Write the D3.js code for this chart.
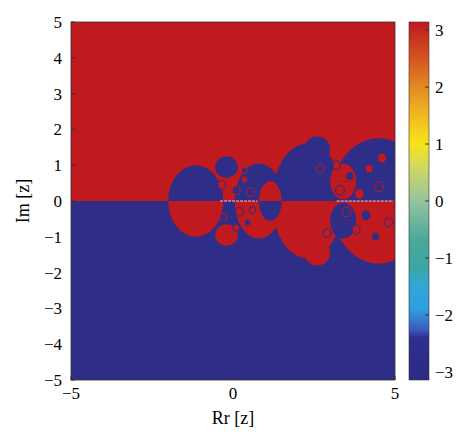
<!DOCTYPE html><html><head><script src="https://cdn.jsdelivr.net/npm/d3@7"></script>
<style>body{margin:0;background:#fff}</style></head><body><svg id="c" width="474" height="445" font-family="'Liberation Serif','Times New Roman',Times,serif"></svg>
<script>
const xTicks=[-5,0,5], yTicks=[-5,-4,-3,-2,-1,0,1,2,3,4,5], cTicks=[-3,-2,-1,0,1,2,3];
// lobes: centre, radii (data units), phase in upper half / lower half
const lobeCx=[2.3,-1.15,0.8,4.5,1.15,2.6,2.6,-0.2,-0.2,3.4,3.4];
const lobeCy=[0,0,0,0,0,1.45,-1.45,0.95,-0.95,0.55,-0.55];
const lobeRx=[1.1,0.85,0.75,1.5,0.35,0.4,0.4,0.35,0.35,0.4,0.4];
const lobeRy=[1.6,1.0,1.05,1.75,0.55,0.35,0.35,0.3,0.3,0.5,0.5];
const lobeTop=[-3,-3,-3,-3,3,-3,3,-3,3,3,-3];
const lobeBot=[3,3,3,3,-3,-3,3,-3,3,3,-3];
const blobX=[0.1,0.35,0.55,-0.35,0.2,0.45,0.1,0.35,-0.3,0.6,3.3,3.6,3.9,4.2,4.5,3.5,3.8,4.1,4.4,4.8,3.2,4.6,2.7,2.9];
const blobY=[0.3,0.6,0.25,0.45,-0.3,-0.6,-0.75,0.85,-0.45,-0.25,0.3,0.7,0.2,0.9,0.4,-0.3,-0.8,-0.4,-1.0,-0.6,1.0,1.2,0.9,-0.9];
const blobR=[0.12,0.1,0.13,0.12,0.12,0.1,0.1,0.09,0.11,0.1,0.14,0.12,0.15,0.12,0.14,0.14,0.12,0.15,0.12,0.13,0.12,0.14,0.12,0.12];
const blobV=[-3,3,-3,3,3,-3,3,-3,-3,3,3,-3,3,3,-3,-3,3,-3,-3,3,3,3,-3,3];
const lineX0=[-0.4,3.2], lineX1=[0.75,4.95];

const svg=d3.select("#c");
const x=d3.scaleLinear().domain([-5,5]).range([71,395]);
const y=d3.scaleLinear().domain([-5,5]).range([380,22]);
const cmap=v=>v>0?"#c0191e":"#2e2d88";
svg.append("clipPath").attr("id","cl").append("rect").attr("x",71).attr("y",22).attr("width",324).attr("height",358);
const g=svg.append("g").attr("clip-path","url(#cl)");
g.append("rect").attr("x",71).attr("y",22).attr("width",324).attr("height",y(0)-22).attr("fill",cmap(3));
g.append("rect").attr("x",71).attr("y",y(0)).attr("width",324).attr("height",380-y(0)).attr("fill",cmap(-3));
lobeCx.forEach((cx,i)=>{
  const X=x(cx),Y=y(lobeCy[i]),rx=x(lobeRx[i])-x(0),ry=y(0)-y(lobeRy[i]);
  g.append("path").attr("d",`M${X-rx},${Y} A${rx},${ry} 0 0 1 ${X+rx},${Y} Z`).attr("fill",cmap(lobeTop[i]));
  g.append("path").attr("d",`M${X-rx},${Y} A${rx},${ry} 0 0 0 ${X+rx},${Y} Z`).attr("fill",cmap(lobeBot[i]));
});
blobX.forEach((bx,i)=>{
  g.append("ellipse").attr("cx",x(bx)).attr("cy",y(blobY[i])).attr("rx",x(blobR[i])-x(0)).attr("ry",y(0)-y(blobR[i]))
   .attr("fill",cmap(blobV[i])).attr("stroke",cmap(-blobV[i])).attr("stroke-width",1);
});
lineX0.forEach((a,i)=>g.append("line").attr("x1",x(a)).attr("x2",x(lineX1[i])).attr("y1",y(0)).attr("y2",y(0))
  .attr("stroke","#e8c8d8").attr("stroke-width",1.2).attr("stroke-dasharray","3,1"));
svg.append("rect").attr("x",71).attr("y",22).attr("width",324).attr("height",358).attr("fill","none").attr("stroke","#333").attr("stroke-width",0.8);
const lab=t=>t<0?"\u2212"+(-t):String(t);
xTicks.forEach(t=>{svg.append("line").attr("x1",x(t)).attr("x2",x(t)).attr("y1",380).attr("y2",376).attr("stroke","#333");
  svg.append("text").attr("x",x(t)).attr("y",399).attr("text-anchor","middle").attr("font-size",17).text(lab(t));});
yTicks.forEach(t=>{svg.append("line").attr("x1",71).attr("x2",75).attr("y1",y(t)).attr("y2",y(t)).attr("stroke","#333");
  svg.append("text").attr("x",62).attr("y",y(t)+6).attr("text-anchor","end").attr("font-size",17).text(lab(t));});
svg.append("text").attr("x",233).attr("y",424).attr("text-anchor","middle").attr("font-size",18).text("Rr [z]");
svg.append("text").attr("transform","translate(29,201) rotate(-90)").attr("text-anchor","middle").attr("font-size",18).text("Im [z]");
const c=d3.scaleLinear().domain([-Math.PI,Math.PI]).range([380,22]);
const stops=[[-3.14,"#2d2a85"],[-2.4,"#2f2f8e"],[-2.25,"#3a5cc0"],[-1.9,"#2f9ee0"],[-1.5,"#30a8d8"],[-1.2,"#3aa6a8"],[-0.7,"#4aa79a"],[0,"#95c4a0"],[0.6,"#d2d860"],[1,"#f7e41a"],[1.4,"#f3c21e"],[2,"#e48a22"],[2.5,"#d35520"],[3.14,"#c0191e"]];
const gr=svg.append("defs").append("linearGradient").attr("id","gr").attr("x1",0).attr("x2",0).attr("y1",1).attr("y2",0);
stops.forEach(s=>gr.append("stop").attr("offset",(s[0]+Math.PI)/(2*Math.PI)).attr("stop-color",s[1]));
svg.append("rect").attr("x",409).attr("y",22).attr("width",20).attr("height",358).attr("fill","url(#gr)").attr("stroke","#333").attr("stroke-width",0.6);
cTicks.forEach(t=>{svg.append("line").attr("x1",425).attr("x2",429).attr("y1",c(t)).attr("y2",c(t)).attr("stroke","#333");
  svg.append("text").attr("x",435).attr("y",c(t)+6).attr("font-size",17).text(lab(t));});
</script></body></html>
